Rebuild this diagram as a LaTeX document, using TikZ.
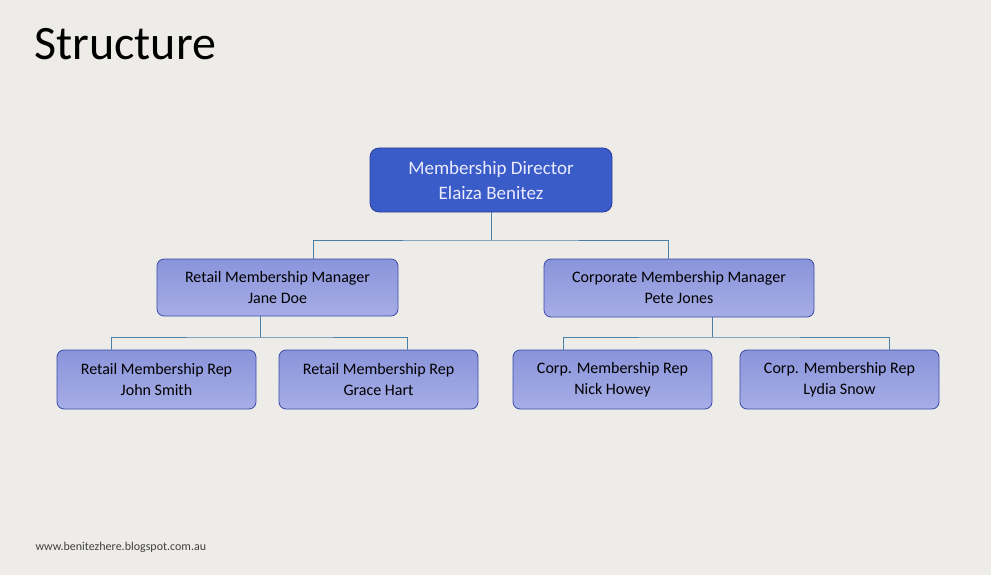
\documentclass[tikz,border=0pt]{standalone}
\usepackage{fontspec}
\setmainfont{Carlito}
\definecolor{bg}{HTML}{EEECE8}
\definecolor{topfill}{HTML}{3A5CC8}
\definecolor{topdraw}{HTML}{2A3E98}
\definecolor{lavtop}{HTML}{8A94DA}
\definecolor{lavbot}{HTML}{A6ADE6}
\definecolor{lavdraw}{HTML}{3A4AA8}
\definecolor{conn}{HTML}{4A7FA8}
\begin{document}
\begin{tikzpicture}[x=1pt,y=-1pt,
  box/.style={rounded corners=7pt,draw=lavdraw,line width=0.8pt,top color=lavtop,bottom color=lavbot,align=center,font=\fontsize{16}{21}\selectfont,text=black,inner sep=0pt},
  topbox/.style={rounded corners=9pt,draw=topdraw,line width=0.8pt,fill=topfill,align=center,font=\fontsize{19}{25}\selectfont,text=white!92!blue,inner sep=0pt},
  line/.style={draw=conn,line width=0.8pt}]
\fill[bg] (0,0) rectangle (991,575);
\node[anchor=base west,font=\fontsize{48}{50}\selectfont] (title) at (31,60) {Structure};
\node[anchor=base west,font=\fontsize{12}{14}\selectfont,text=black!75] (foot) at (32,550) {www.benitezhere.blogspot.com.au};
\node[topbox,minimum width=242pt,minimum height=64pt] (d) at (491,180) {Membership Director\\Elaiza Benitez};
\node[box,minimum width=241pt,minimum height=57pt] (m1) at (277.5,287.5) {Retail Membership Manager\\Jane Doe};
\node[box,minimum width=270pt,minimum height=58pt] (m2) at (679,288) {Corporate Membership Manager\\Pete Jones};
\node[box,minimum width=199pt,minimum height=59pt] (r1) at (156.5,379.5) {Retail Membership Rep\\John Smith};
\node[box,minimum width=199pt,minimum height=59pt] (r2) at (378.5,379.5) {Retail Membership Rep\\Grace Hart};
\node[box,minimum width=199pt,minimum height=59pt] (r3) at (612.5,379.5) {Corp. Membership Rep\\Nick Howey};
\node[box,minimum width=199pt,minimum height=59pt] (r4) at (839.5,379.5) {Corp. Membership Rep\\Lydia Snow};
\coordinate (j0) at (491,240);
\coordinate (j1) at (260,337);
\coordinate (j2) at (712,337);
\draw[line] (d.south) -- (j0);
\draw[line] (m1.north -| 313,0) |- (j0) -| (m2.north -| 668,0);
\draw[line] (m1.south -| j1) -- (j1);
\draw[line] (r1.north -| 111,0) |- (j1) -| (r2.north -| 407,0);
\draw[line] (m2.south -| j2) -- (j2);
\draw[line] (r3.north -| 563,0) |- (j2) -| (r4.north -| 889,0);
\end{tikzpicture}
\end{document}
